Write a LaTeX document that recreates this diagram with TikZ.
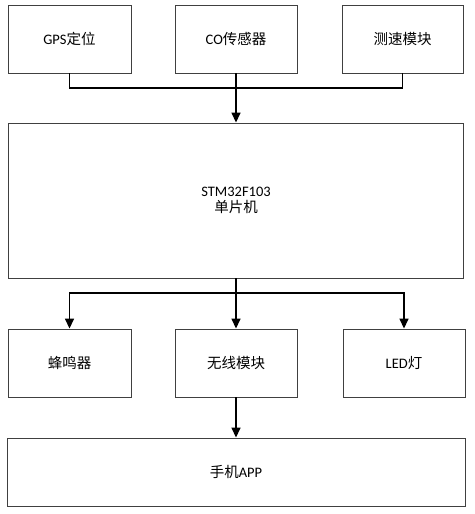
\documentclass[tikz,border=0pt]{standalone}
\usepackage{fontspec}
\setmainfont{Carlito}
\newfontfamily\cjk{Noto Sans CJK SC}
\usetikzlibrary{arrows.meta}
\begin{document}
\begin{tikzpicture}[x=1pt,y=-1pt,
  blk/.style={draw=black!75,line width=0.9pt,rectangle,inner sep=0pt,align=center,font=\fontsize{14.5}{17}\selectfont},
  conn/.style={draw=black,line width=1.5pt},
  arr/.style={conn,-{Triangle[width=9pt,length=10pt]}}]
\useasboundingbox[fill=white] (0,0) rectangle (474,514);
\node[blk,minimum width=123pt,minimum height=68pt] (gps) at (69.5,39) {GPS{\cjk 定位}};
\node[blk,minimum width=122pt,minimum height=68pt] (co) at (236,39) {CO{\cjk 传感器}};
\node[blk,minimum width=121pt,minimum height=68pt] (spd) at (402.5,39) {{\cjk 测速模块}};
\node[blk,minimum width=455pt,minimum height=155pt] (stm) at (236,200.5) {STM32F103\\[-1pt]{\cjk 单片机}};
\node[blk,minimum width=123pt,minimum height=68pt] (buz) at (69.5,363) {{\cjk 蜂鸣器}};
\node[blk,minimum width=122pt,minimum height=68pt] (wl) at (236,363) {{\cjk 无线模块}};
\node[blk,minimum width=122pt,minimum height=68pt] (led) at (404,363) {LED{\cjk 灯}};
\node[blk,minimum width=458pt,minimum height=68pt] (app) at (236,472) {{\cjk 手机}APP};
\coordinate (j1) at (236,88);
\coordinate (j2) at (236,293);
\draw[conn] (gps.south) |- (j1) -| (spd.south);
\draw[arr] (co.south) -- (stm.north);
\draw[conn] (stm.south) -- (j2);
\draw[arr] (j2) -| (buz.north);
\draw[arr] (j2) -| (led.north);
\draw[arr] (stm.south) -- (wl.north);
\draw[arr] (wl.south) -- (app.north);
\end{tikzpicture}
\end{document}
